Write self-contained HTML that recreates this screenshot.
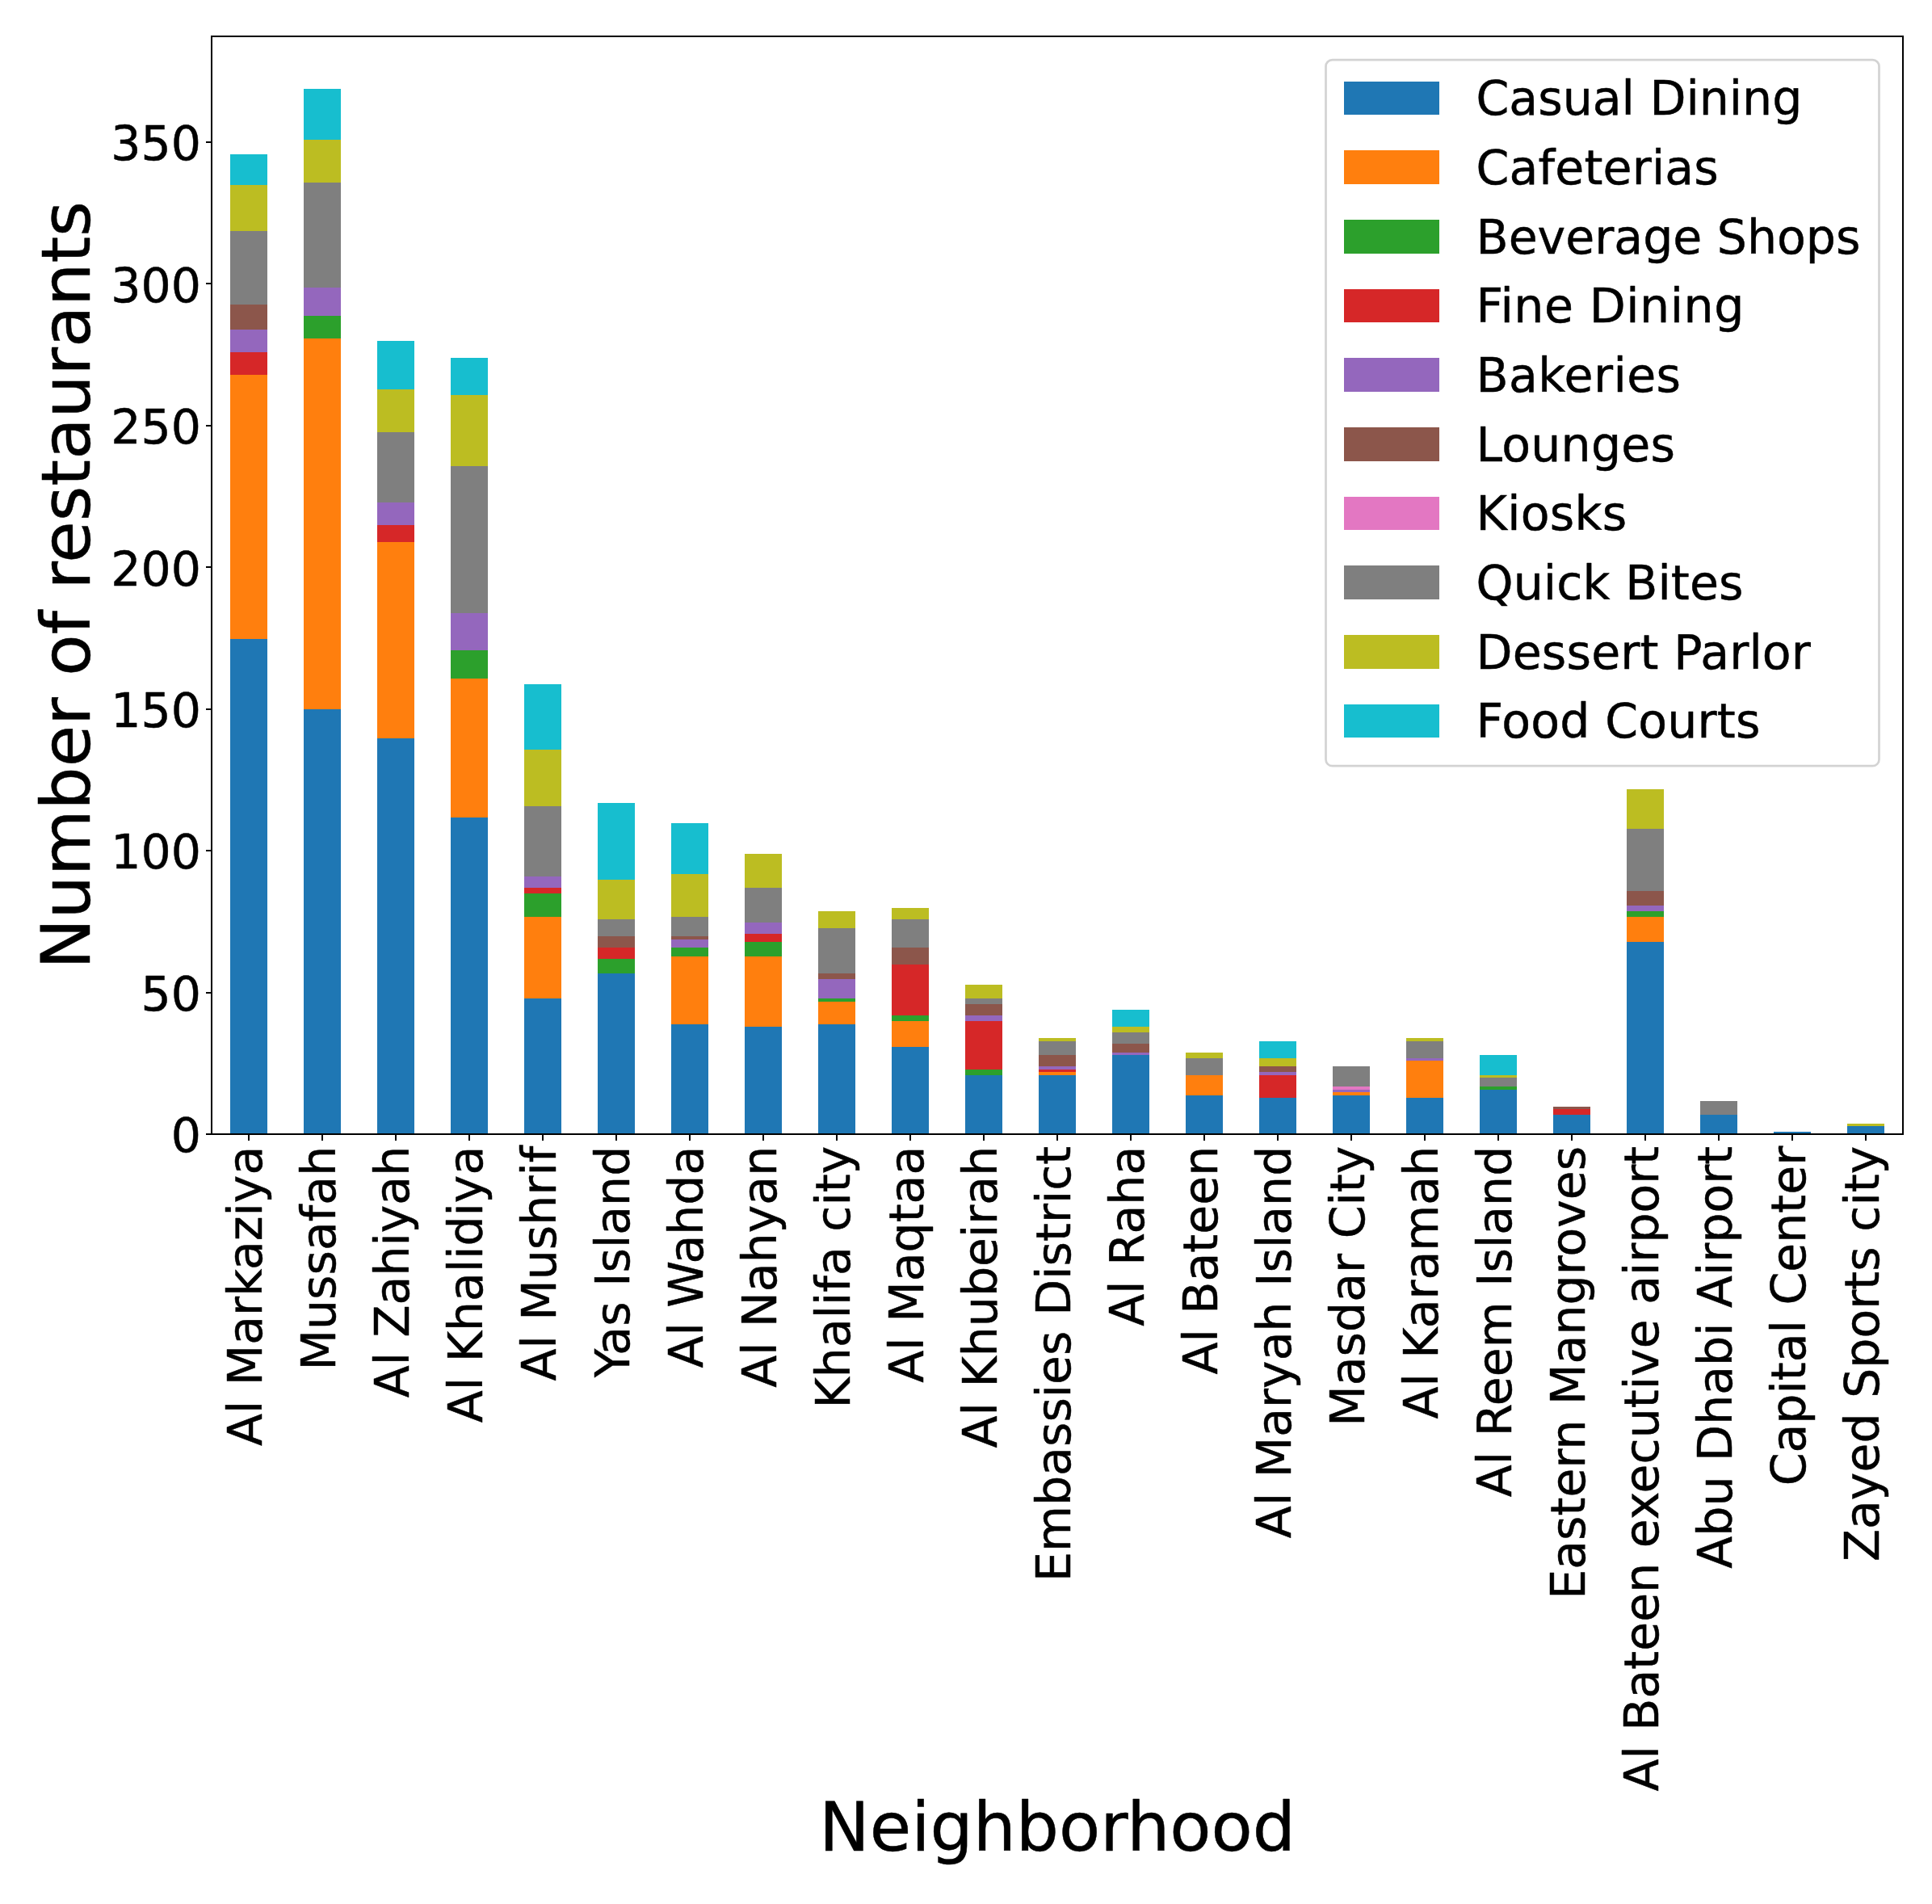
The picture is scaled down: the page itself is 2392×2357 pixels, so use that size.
<!DOCTYPE html>
<html lang="en"><head><meta charset="utf-8"><title>Number of restaurants by neighborhood</title>
<style>html,body{margin:0;padding:0;background:#fff}body{width:2392px;height:2357px;overflow:hidden}svg{display:block}text{font-family:"DejaVu Sans","Liberation Sans",sans-serif;fill:#000;stroke:#000;stroke-width:0.5px;stroke-linejoin:round}.t{font-size:58.5px}.l{font-size:83.75px}</style></head><body>
<svg width="2392" height="2357" viewBox="0 0 2392 2357">
<rect width="2392" height="2357" fill="#fff"/>
<g shape-rendering="crispEdges">
<rect x="285" y="791" width="46" height="613" fill="#1f77b4"/>
<rect x="285" y="464" width="46" height="327" fill="#ff7f0e"/>
<rect x="285" y="436" width="46" height="28" fill="#d62728"/>
<rect x="285" y="408" width="46" height="28" fill="#9467bd"/>
<rect x="285" y="377" width="46" height="31" fill="#8c564b"/>
<rect x="285" y="286" width="46" height="91" fill="#7f7f7f"/>
<rect x="285" y="229" width="46" height="57" fill="#bcbd22"/>
<rect x="285" y="191" width="46" height="38" fill="#17becf"/>
<rect x="376" y="878" width="46" height="526" fill="#1f77b4"/>
<rect x="376" y="419" width="46" height="459" fill="#ff7f0e"/>
<rect x="376" y="391" width="46" height="28" fill="#2ca02c"/>
<rect x="376" y="356" width="46" height="35" fill="#9467bd"/>
<rect x="376" y="226" width="46" height="130" fill="#7f7f7f"/>
<rect x="376" y="173" width="46" height="53" fill="#bcbd22"/>
<rect x="376" y="110" width="46" height="63" fill="#17becf"/>
<rect x="467" y="914" width="46" height="490" fill="#1f77b4"/>
<rect x="467" y="671" width="46" height="243" fill="#ff7f0e"/>
<rect x="467" y="650" width="46" height="21" fill="#d62728"/>
<rect x="467" y="622" width="46" height="28" fill="#9467bd"/>
<rect x="467" y="535" width="46" height="87" fill="#7f7f7f"/>
<rect x="467" y="482" width="46" height="53" fill="#bcbd22"/>
<rect x="467" y="422" width="46" height="60" fill="#17becf"/>
<rect x="558" y="1012" width="46" height="392" fill="#1f77b4"/>
<rect x="558" y="840" width="46" height="172" fill="#ff7f0e"/>
<rect x="558" y="805" width="46" height="35" fill="#2ca02c"/>
<rect x="558" y="759" width="46" height="46" fill="#9467bd"/>
<rect x="558" y="577" width="46" height="182" fill="#7f7f7f"/>
<rect x="558" y="489" width="46" height="88" fill="#bcbd22"/>
<rect x="558" y="443" width="46" height="46" fill="#17becf"/>
<rect x="649" y="1236" width="46" height="168" fill="#1f77b4"/>
<rect x="649" y="1135" width="46" height="101" fill="#ff7f0e"/>
<rect x="649" y="1106" width="46" height="29" fill="#2ca02c"/>
<rect x="649" y="1099" width="46" height="7" fill="#d62728"/>
<rect x="649" y="1085" width="46" height="14" fill="#9467bd"/>
<rect x="649" y="998" width="46" height="87" fill="#7f7f7f"/>
<rect x="649" y="928" width="46" height="70" fill="#bcbd22"/>
<rect x="649" y="847" width="46" height="81" fill="#17becf"/>
<rect x="740" y="1205" width="46" height="199" fill="#1f77b4"/>
<rect x="740" y="1187" width="46" height="18" fill="#2ca02c"/>
<rect x="740" y="1173" width="46" height="14" fill="#d62728"/>
<rect x="740" y="1159" width="46" height="14" fill="#8c564b"/>
<rect x="740" y="1138" width="46" height="21" fill="#7f7f7f"/>
<rect x="740" y="1089" width="46" height="49" fill="#bcbd22"/>
<rect x="740" y="994" width="46" height="95" fill="#17becf"/>
<rect x="831" y="1268" width="46" height="136" fill="#1f77b4"/>
<rect x="831" y="1184" width="46" height="84" fill="#ff7f0e"/>
<rect x="831" y="1173" width="46" height="11" fill="#2ca02c"/>
<rect x="831" y="1163" width="46" height="10" fill="#9467bd"/>
<rect x="831" y="1159" width="46" height="4" fill="#8c564b"/>
<rect x="831" y="1135" width="46" height="24" fill="#7f7f7f"/>
<rect x="831" y="1082" width="46" height="53" fill="#bcbd22"/>
<rect x="831" y="1019" width="46" height="63" fill="#17becf"/>
<rect x="922" y="1271" width="46" height="133" fill="#1f77b4"/>
<rect x="922" y="1184" width="46" height="87" fill="#ff7f0e"/>
<rect x="922" y="1166" width="46" height="18" fill="#2ca02c"/>
<rect x="922" y="1156" width="46" height="10" fill="#d62728"/>
<rect x="922" y="1142" width="46" height="14" fill="#9467bd"/>
<rect x="922" y="1099" width="46" height="43" fill="#7f7f7f"/>
<rect x="922" y="1057" width="46" height="42" fill="#bcbd22"/>
<rect x="1013" y="1268" width="46" height="136" fill="#1f77b4"/>
<rect x="1013" y="1240" width="46" height="28" fill="#ff7f0e"/>
<rect x="1013" y="1236" width="46" height="4" fill="#2ca02c"/>
<rect x="1013" y="1212" width="46" height="24" fill="#9467bd"/>
<rect x="1013" y="1205" width="46" height="7" fill="#8c564b"/>
<rect x="1013" y="1149" width="46" height="56" fill="#7f7f7f"/>
<rect x="1013" y="1128" width="46" height="21" fill="#bcbd22"/>
<rect x="1104" y="1296" width="46" height="108" fill="#1f77b4"/>
<rect x="1104" y="1264" width="46" height="32" fill="#ff7f0e"/>
<rect x="1104" y="1257" width="46" height="7" fill="#2ca02c"/>
<rect x="1104" y="1194" width="46" height="63" fill="#d62728"/>
<rect x="1104" y="1173" width="46" height="21" fill="#8c564b"/>
<rect x="1104" y="1138" width="46" height="35" fill="#7f7f7f"/>
<rect x="1104" y="1124" width="46" height="14" fill="#bcbd22"/>
<rect x="1195" y="1331" width="46" height="73" fill="#1f77b4"/>
<rect x="1195" y="1324" width="46" height="7" fill="#2ca02c"/>
<rect x="1195" y="1264" width="46" height="60" fill="#d62728"/>
<rect x="1195" y="1257" width="46" height="7" fill="#9467bd"/>
<rect x="1195" y="1243" width="46" height="14" fill="#8c564b"/>
<rect x="1195" y="1236" width="46" height="7" fill="#7f7f7f"/>
<rect x="1195" y="1219" width="46" height="17" fill="#bcbd22"/>
<rect x="1286" y="1331" width="46" height="73" fill="#1f77b4"/>
<rect x="1286" y="1327" width="46" height="4" fill="#ff7f0e"/>
<rect x="1286" y="1324" width="46" height="3" fill="#d62728"/>
<rect x="1286" y="1320" width="46" height="4" fill="#9467bd"/>
<rect x="1286" y="1306" width="46" height="14" fill="#8c564b"/>
<rect x="1286" y="1289" width="46" height="17" fill="#7f7f7f"/>
<rect x="1286" y="1285" width="46" height="4" fill="#bcbd22"/>
<rect x="1377" y="1306" width="46" height="98" fill="#1f77b4"/>
<rect x="1377" y="1303" width="46" height="3" fill="#9467bd"/>
<rect x="1377" y="1292" width="46" height="11" fill="#8c564b"/>
<rect x="1377" y="1278" width="46" height="14" fill="#7f7f7f"/>
<rect x="1377" y="1271" width="46" height="7" fill="#bcbd22"/>
<rect x="1377" y="1250" width="46" height="21" fill="#17becf"/>
<rect x="1468" y="1356" width="46" height="48" fill="#1f77b4"/>
<rect x="1468" y="1331" width="46" height="25" fill="#ff7f0e"/>
<rect x="1468" y="1310" width="46" height="21" fill="#7f7f7f"/>
<rect x="1468" y="1303" width="46" height="7" fill="#bcbd22"/>
<rect x="1559" y="1359" width="46" height="45" fill="#1f77b4"/>
<rect x="1559" y="1331" width="46" height="28" fill="#d62728"/>
<rect x="1559" y="1327" width="46" height="4" fill="#9467bd"/>
<rect x="1559" y="1320" width="46" height="7" fill="#8c564b"/>
<rect x="1559" y="1310" width="46" height="10" fill="#bcbd22"/>
<rect x="1559" y="1289" width="46" height="21" fill="#17becf"/>
<rect x="1650" y="1356" width="46" height="48" fill="#1f77b4"/>
<rect x="1650" y="1352" width="46" height="4" fill="#ff7f0e"/>
<rect x="1650" y="1349" width="46" height="3" fill="#9467bd"/>
<rect x="1650" y="1345" width="46" height="4" fill="#e377c2"/>
<rect x="1650" y="1320" width="46" height="25" fill="#7f7f7f"/>
<rect x="1741" y="1359" width="46" height="45" fill="#1f77b4"/>
<rect x="1741" y="1313" width="46" height="46" fill="#ff7f0e"/>
<rect x="1741" y="1310" width="46" height="3" fill="#9467bd"/>
<rect x="1741" y="1289" width="46" height="21" fill="#7f7f7f"/>
<rect x="1741" y="1285" width="46" height="4" fill="#bcbd22"/>
<rect x="1832" y="1349" width="46" height="55" fill="#1f77b4"/>
<rect x="1832" y="1345" width="46" height="4" fill="#2ca02c"/>
<rect x="1832" y="1334" width="46" height="11" fill="#7f7f7f"/>
<rect x="1832" y="1331" width="46" height="3" fill="#bcbd22"/>
<rect x="1832" y="1306" width="46" height="25" fill="#17becf"/>
<rect x="1923" y="1380" width="46" height="24" fill="#1f77b4"/>
<rect x="1923" y="1373" width="46" height="7" fill="#d62728"/>
<rect x="1923" y="1370" width="46" height="3" fill="#8c564b"/>
<rect x="2014" y="1166" width="46" height="238" fill="#1f77b4"/>
<rect x="2014" y="1135" width="46" height="31" fill="#ff7f0e"/>
<rect x="2014" y="1128" width="46" height="7" fill="#2ca02c"/>
<rect x="2014" y="1121" width="46" height="7" fill="#9467bd"/>
<rect x="2014" y="1103" width="46" height="18" fill="#8c564b"/>
<rect x="2014" y="1026" width="46" height="77" fill="#7f7f7f"/>
<rect x="2014" y="977" width="46" height="49" fill="#bcbd22"/>
<rect x="2105" y="1380" width="46" height="24" fill="#1f77b4"/>
<rect x="2105" y="1363" width="46" height="17" fill="#7f7f7f"/>
<rect x="2196" y="1401" width="46" height="3" fill="#1f77b4"/>
<rect x="2287" y="1394" width="46" height="10" fill="#1f77b4"/>
<rect x="2287" y="1391" width="46" height="3" fill="#bcbd22"/>
</g>
<g fill="#000" shape-rendering="crispEdges">
<rect x="255" y="1403" width="7" height="2"/>
<rect x="255" y="1228" width="7" height="2"/>
<rect x="255" y="1052" width="7" height="2"/>
<rect x="255" y="877" width="7" height="2"/>
<rect x="255" y="701" width="7" height="2"/>
<rect x="255" y="526" width="7" height="2"/>
<rect x="255" y="350" width="7" height="2"/>
<rect x="255" y="175" width="7" height="2"/>
<rect x="307" y="1404" width="2" height="8"/>
<rect x="398" y="1404" width="2" height="8"/>
<rect x="489" y="1404" width="2" height="8"/>
<rect x="580" y="1404" width="2" height="8"/>
<rect x="671" y="1404" width="2" height="8"/>
<rect x="762" y="1404" width="2" height="8"/>
<rect x="853" y="1404" width="2" height="8"/>
<rect x="944" y="1404" width="2" height="8"/>
<rect x="1035" y="1404" width="2" height="8"/>
<rect x="1126" y="1404" width="2" height="8"/>
<rect x="1217" y="1404" width="2" height="8"/>
<rect x="1308" y="1404" width="2" height="8"/>
<rect x="1399" y="1404" width="2" height="8"/>
<rect x="1490" y="1404" width="2" height="8"/>
<rect x="1581" y="1404" width="2" height="8"/>
<rect x="1672" y="1404" width="2" height="8"/>
<rect x="1763" y="1404" width="2" height="8"/>
<rect x="1854" y="1404" width="2" height="8"/>
<rect x="1945" y="1404" width="2" height="8"/>
<rect x="2036" y="1404" width="2" height="8"/>
<rect x="2127" y="1404" width="2" height="8"/>
<rect x="2218" y="1404" width="2" height="8"/>
<rect x="2309" y="1404" width="2" height="8"/>
<rect x="261" y="44" width="2" height="1361"/>
<rect x="2355" y="44" width="2" height="1361"/>
<rect x="261" y="44" width="2096" height="2"/>
<rect x="261" y="1403" width="2096" height="2"/>
</g>
<g class="t" text-anchor="end">
<text x="249" y="1426.3">0</text>
<text x="249" y="1250.89">50</text>
<text x="249" y="1075.49">100</text>
<text x="249" y="900.08">150</text>
<text x="249" y="724.67">200</text>
<text x="249" y="549.26">250</text>
<text x="249" y="373.86">300</text>
<text x="249" y="198.45">350</text>
</g>
<g class="t" text-anchor="end">
<text transform="translate(324,1418.7) rotate(-90)">Al Markaziya</text>
<text transform="translate(415,1418.7) rotate(-90)">Mussafah</text>
<text transform="translate(506,1418.7) rotate(-90)">Al Zahiyah</text>
<text transform="translate(597,1418.7) rotate(-90)">Al Khalidiya</text>
<text transform="translate(688,1418.7) rotate(-90)">Al Mushrif</text>
<text transform="translate(779,1418.7) rotate(-90)">Yas Island</text>
<text transform="translate(870,1418.7) rotate(-90)">Al Wahda</text>
<text transform="translate(961,1418.7) rotate(-90)">Al Nahyan</text>
<text transform="translate(1052,1418.7) rotate(-90)">Khalifa city</text>
<text transform="translate(1143,1418.7) rotate(-90)">Al Maqtaa</text>
<text transform="translate(1234,1418.7) rotate(-90)">Al Khubeirah</text>
<text transform="translate(1325,1418.7) rotate(-90)">Embassies District</text>
<text transform="translate(1416,1418.7) rotate(-90)">Al Raha</text>
<text transform="translate(1507,1418.7) rotate(-90)">Al Bateen</text>
<text transform="translate(1598,1418.7) rotate(-90)">Al Maryah Island</text>
<text transform="translate(1689,1418.7) rotate(-90)">Masdar City</text>
<text transform="translate(1780,1418.7) rotate(-90)">Al Karamah</text>
<text transform="translate(1871,1418.7) rotate(-90)">Al Reem Island</text>
<text transform="translate(1962,1418.7) rotate(-90)">Eastern Mangroves</text>
<text transform="translate(2053,1418.7) rotate(-90)">Al Bateen executive airport</text>
<text transform="translate(2144,1418.7) rotate(-90)">Abu Dhabi Airport</text>
<text transform="translate(2235,1418.7) rotate(-90)">Capital Center</text>
<text transform="translate(2326,1418.7) rotate(-90)">Zayed Sports city</text>
</g>
<text class="l" text-anchor="middle" x="1309" y="2291">Neighborhood</text>
<text class="l" text-anchor="middle" transform="translate(111,724.5) rotate(-90)">Number of restaurants</text>
<rect x="1641.5" y="74.2" width="685" height="874" rx="8" ry="8" fill="#fff" stroke="#d3d3d3" stroke-width="2.7"/>
<g shape-rendering="crispEdges">
<rect x="1664" y="101" width="118" height="41" fill="#1f77b4"/>
<rect x="1664" y="186" width="118" height="42" fill="#ff7f0e"/>
<rect x="1664" y="272" width="118" height="42" fill="#2ca02c"/>
<rect x="1664" y="358" width="118" height="41" fill="#d62728"/>
<rect x="1664" y="443" width="118" height="42" fill="#9467bd"/>
<rect x="1664" y="529" width="118" height="42" fill="#8c564b"/>
<rect x="1664" y="615" width="118" height="41" fill="#e377c2"/>
<rect x="1664" y="700" width="118" height="42" fill="#7f7f7f"/>
<rect x="1664" y="786" width="118" height="42" fill="#bcbd22"/>
<rect x="1664" y="872" width="118" height="41" fill="#17becf"/>
</g>
<g class="t">
<text x="1827.5" y="142">Casual Dining</text>
<text x="1827.5" y="228" letter-spacing="0.16">Cafeterias</text>
<text x="1827.5" y="314">Beverage Shops</text>
<text x="1827.5" y="399" letter-spacing="0.57">Fine Dining</text>
<text x="1827.5" y="485" letter-spacing="0.43">Bakeries</text>
<text x="1827.5" y="571" letter-spacing="0.22">Lounges</text>
<text x="1827.5" y="656" letter-spacing="0.28">Kiosks</text>
<text x="1827.5" y="742" letter-spacing="0.12">Quick Bites</text>
<text x="1827.5" y="828" letter-spacing="0.16">Dessert Parlor</text>
<text x="1827.5" y="913" letter-spacing="0.19">Food Courts</text>
</g>
</svg></body></html>
